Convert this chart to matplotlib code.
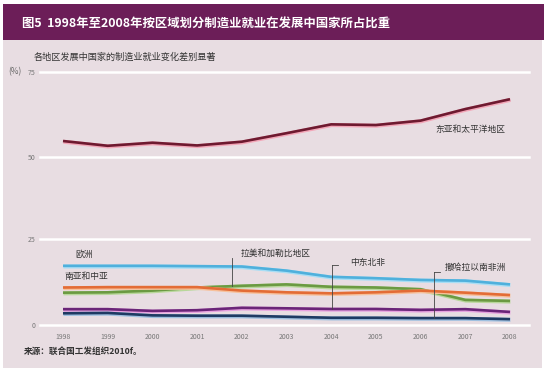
import matplotlib
matplotlib.use("Agg")
import matplotlib.pyplot as plt
import matplotlib.patheffects as pe
from matplotlib.patches import Rectangle

plt.rcParams['font.family'] = ['Noto Sans CJK SC', 'DejaVu Sans']

years = [1998, 1999, 2000, 2001, 2002, 2003, 2004, 2005, 2006, 2007, 2008]
east_asia = [54.7, 53.3, 54.2, 53.4, 54.5, 57.0, 59.6, 59.4, 60.7, 64.1, 67.0]
europe = [17.2, 17.2, 17.2, 17.1, 17.0, 15.8, 14.0, 13.6, 13.1, 12.9, 11.8]
south_asia = [10.9, 11.0, 11.0, 11.0, 10.0, 9.5, 9.2, 9.5, 10.0, 9.4, 8.7]
latin_am = [9.4, 9.5, 10.0, 10.9, 11.4, 11.8, 11.1, 10.9, 10.4, 7.3, 7.0]
mena = [4.6, 4.6, 4.1, 4.3, 5.0, 4.85, 4.65, 4.65, 4.4, 4.6, 3.8]
ssa = [3.4, 3.5, 2.8, 2.7, 2.7, 2.4, 2.1, 2.1, 2.0, 2.0, 1.7]

upper_ticks = [50, 75]
lower_ticks = [0, 25]

title = "图5  1998年至2008年按区域划分制造业就业在发展中国家所占比重"
subtitle = "各地区发展中国家的制造业就业变化差别显著"
source = "来源：联合国工发组织2010f。"

W, H = 550, 374
fig = plt.figure(figsize=(5.5, 3.74), dpi=100, facecolor='white')

def fx(px):
    return px / W

def fy(py):
    return 1 - py / H

bg = '#e8dde2'
fig.patches.append(Rectangle((fx(3), fy(368)), fx(542) - fx(3), fy(40) - fy(368),
                             transform=fig.transFigure, facecolor=bg, edgecolor='none', zorder=-5))
fig.patches.append(Rectangle((fx(3), fy(40)), fx(544) - fx(3), fy(4) - fy(40),
                             transform=fig.transFigure, facecolor='#6c1e58', edgecolor='none', zorder=-5))

fig.text(fx(22), fy(23), title, color='white', fontsize=8.9, fontweight='bold', va='center', ha='left')
fig.text(fx(34), fy(57), subtitle, color='#333333', fontsize=6.6, va='center', ha='left')
fig.text(fx(24), fy(351), source, color='#333333', fontsize=6.2, fontweight='bold', va='center', ha='left')
fig.text(fx(8), fy(72), "(%)", color='#666666', fontsize=6, va='center', ha='left')

x0 = 1998 - (63 - 40) / 44.7
x1 = 2008 + (529 - 510) / 44.7
left = fx(40)
width = fx(529) - fx(40)
ax_up = fig.add_axes([left, fy(157), width, fy(72) - fy(157)])
ax_lo = fig.add_axes([left, fy(325), width, fy(239) - fy(325)])

for ax, lim, ticks in [(ax_up, (50, 75), upper_ticks), (ax_lo, (0, 25), lower_ticks)]:
    ax.set_facecolor('none')
    ax.set_xlim(x0, x1)
    ax.set_ylim(*lim)
    for s in ax.spines.values():
        s.set_visible(False)
    ax.set_yticks(ticks)
    ax.set_yticklabels([str(t) for t in ticks], fontsize=5, color='#777777')
    ax.tick_params(axis='y', length=0, pad=3)
    for t in ticks:
        ax.axhline(t, color='white', lw=1.8, zorder=1, clip_on=False)

ax_up.set_xticks([])
ax_lo.set_xticks(years)
ax_lo.set_xticklabels([str(y) for y in years], fontsize=5, color='#777777')
ax_lo.tick_params(axis='x', length=0, pad=6)

def draw(ax, vals, color, glow):
    ax.plot(years, vals, color=color, lw=1.9, zorder=3, solid_capstyle='butt',
            path_effects=[pe.Stroke(linewidth=2.9, foreground=glow, offset=(0.3, -0.5)), pe.Normal()])

draw(ax_up, east_asia, '#6e1a30', '#f3a6b8')
draw(ax_lo, europe, '#4fb0dc', '#a8def5')
draw(ax_lo, latin_am, '#6b9a42', '#b8d79a')
draw(ax_lo, south_asia, '#e36c36', '#f7c09a')
draw(ax_lo, mena, '#6a2578', '#e7a2e0')
draw(ax_lo, ssa, '#1e3a62', '#9fc0e0')

lab = dict(fontsize=6.3, color='#333333', va='center', ha='left')
ax_up.text(2006.34, 58.2, "东亚和太平洋地区", **lab)
ax_lo.text(1998.27, 20.6, "欧洲", **lab)
ax_lo.text(1998.04, 14.0, "南亚和中亚", **lab)
ax_lo.text(2001.98, 20.9, "拉美和加勒比地区", **lab)
ax_lo.text(2004.42, 18.3, "中东北非", **lab)
ax_lo.text(2006.55, 16.6, "撒哈拉以南非洲", **lab)

lc = '#444444'
ax_lo.plot([2001.78, 2001.78], [19.5, 11.3], color=lc, lw=0.6, zorder=4)
ax_lo.plot([2004.02, 2004.02], [17.4, 4.65], color=lc, lw=0.6, zorder=4)
ax_lo.plot([2004.02, 2004.15], [17.4, 17.4], color=lc, lw=0.6, zorder=4)
ax_lo.plot([2006.3, 2006.3], [15.4, 2.0], color=lc, lw=0.6, zorder=4)
ax_lo.plot([2006.3, 2006.43], [15.4, 15.4], color=lc, lw=0.6, zorder=4)

fig.savefig("out.png", dpi=100, facecolor=fig.get_facecolor())
